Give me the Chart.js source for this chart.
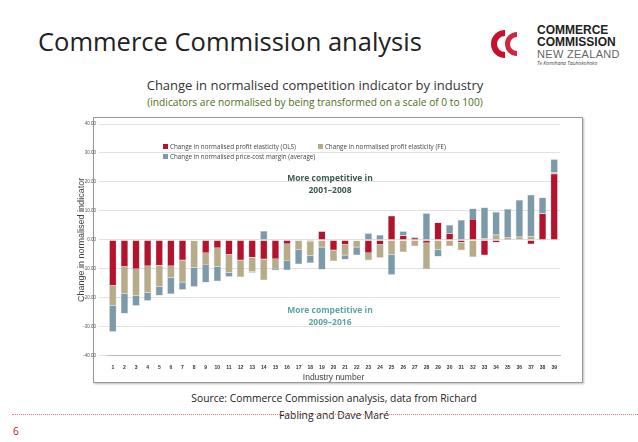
<!DOCTYPE html>
<html><head><meta charset="utf-8">
<script src="https://cdn.jsdelivr.net/npm/chart.js@4"></script>
<style>
body{margin:0;width:638px;height:442px;overflow:hidden;background:#fff;font-family:"Open Sans","Liberation Sans",sans-serif;position:relative}
.abs{position:absolute}
</style></head><body>
<div class="abs" style="left:38px;top:24px;font-size:25.5px;color:#222;">Commerce Commission analysis</div>
<svg class="abs" style="left:487px;top:26px" width="48" height="36" viewBox="0 0 48 36">
<path d="M18 4 A14 14 0 1 0 18 32 L18 26 A8 8 0 1 1 18 10 Z" fill="#c8102e"/>
<path d="M30 6 A12 12 0 1 0 30 30 L30 25 A7 7 0 1 1 30 11 Z" fill="#c8102e" opacity="0.9"/>
</svg>
<div class="abs" style="left:537px;top:24px;font-family:'Liberation Sans',sans-serif;font-weight:bold;font-size:12px;line-height:12px;color:#222">COMMERCE<br>COMMISSION</div>
<div class="abs" style="left:537px;top:48px;font-family:'Liberation Sans',sans-serif;font-size:11px;color:#666;letter-spacing:0.3px">NEW ZEALAND</div>
<div class="abs" style="left:537px;top:60px;font-size:5px;font-style:italic;color:#444">Te Komihana Tauhokohoko</div>
<div class="abs" style="left:0;width:630px;top:76px;text-align:center;font-size:13px;color:#333">Change in normalised competition indicator by industry</div>
<div class="abs" style="left:0;width:630px;top:95px;text-align:center;font-size:10.2px;color:#4e6e1a">(indicators are normalised by being transformed on a scale of 0 to 100)</div>
<div class="abs" style="left:93px;top:117px;width:490px;height:266px;border:1px solid #999;box-shadow:1px 1px 2px #bbb;box-sizing:border-box"></div>
<div class="abs" style="left:76px;top:117px;width:507px;height:266px"><canvas id="c"></canvas></div>
<div class="abs" style="left:163px;top:142px;font-size:6.3px;color:#444;line-height:10px">
<div><span style="display:inline-block;width:5px;height:5px;background:#b5122e;margin-right:2px"></span>Change in normalised profit elasticity (OLS)<span style="display:inline-block;width:5px;height:5px;background:#b7ab88;margin:0 2px 0 22px"></span>Change in normalised profit elasticity (FE)</div>
<div><span style="display:inline-block;width:5px;height:5px;background:#7b9bab;margin-right:2px"></span>Change in normalised price-cost margin (average)</div>
</div>
<div class="abs" style="left:270px;width:120px;top:172px;text-align:center;font-size:8.5px;font-weight:bold;color:#3b5a4e;line-height:12px">More competitive in<br>2001–2008</div>
<div class="abs" style="left:270px;width:120px;top:304px;text-align:center;font-size:8.5px;font-weight:bold;color:#5fa3a3;line-height:12px">More competitive in<br>2009–2016</div>
<div class="abs" style="left:0;width:668px;top:390px;text-align:center;font-size:10.3px;color:#222;line-height:17px">Source: Commerce Commission analysis, data from Richard<br>Fabling and Dave Maré</div>
<div class="abs" style="left:12px;width:626px;top:414px;border-top:1px dotted #d98080"></div>
<div class="abs" style="left:13px;top:424px;font-size:10px;color:#c8102e">6</div>
<script>
const categories=Array.from({length:39},(_,i)=>String(i+1));
const ols=[-15.8,-9.3,-10,-9,-8.8,-9,-7,-0.3,-4.5,-2.8,-5.1,-7,-6.1,-6.7,-6.6,-1.4,0,-0.5,3,-3.6,-1.7,-0.3,-4.5,-1.7,8.3,1.5,0.7,-1.1,6,2.3,-0.9,7.2,-5.3,-0.9,0.3,0.2,-1.5,9.1,22.8];
const fe=[-6.8,-9.3,-9.3,-9.2,-7.4,-4,-7.6,-9.2,-4.2,-6.5,-6.2,-5.8,-4.9,-7.2,-3.4,-5.9,-3.4,-4.9,-2.5,-3.7,-3.6,-2.2,-2.5,-4.5,-5.1,-4.2,-2.2,-8.9,-3.4,-2.2,-2.7,-5.9,0.6,1.8,0.5,0.9,1.25,-0.3,0.5];
const pcm=[-9.1,-6.8,-3.4,-2.8,-3,-5.7,-2.6,-6.7,-6,-5,-1.4,0,-0.3,3.1,-0.5,-3.2,-5,-2.6,-7.7,0,-1.5,-2.8,2.3,1.7,-6.9,1.5,0.3,9.2,-2.3,2.8,6.9,3.6,10.6,7.8,9.9,12.7,14.3,5.5,4.5];
const yTicks=[40,30,20,10,0,-10,-20,-30,-40];
const ds=(l,d,c)=>({label:l,data:d,backgroundColor:c,borderColor:'rgba(60,60,60,0.35)',borderWidth:0.5,barPercentage:0.62,categoryPercentage:1});
new Chart(document.getElementById('c'),{type:'bar',
data:{labels:categories,datasets:[ds('Change in normalised profit elasticity (OLS)',ols,'#b5122e'),ds('Change in normalised profit elasticity (FE)',fe,'#b7ab88'),ds('Change in normalised price-cost margin (average)',pcm,'#7b9bab')]},
options:{responsive:true,maintainAspectRatio:false,animation:false,
layout:{padding:{top:7,right:23,left:0,bottom:0}},
plugins:{legend:{display:false},tooltip:{enabled:false}},
scales:{x:{stacked:true,grid:{display:false},border:{color:'#bbb'},ticks:{font:{size:5,weight:'bold'},color:'#333',padding:1,maxRotation:0},
 title:{display:true,text:'Industry number',font:{size:8.5},color:'#444',padding:{top:1,bottom:0}}},
 y:{stacked:true,min:-40,max:40,afterBuildTicks:s=>{s.ticks=yTicks.map(v=>({value:v}));},afterFit:s=>{s.width=31;},
 grid:{color:'#e2e2e2'},border:{display:false},ticks:{font:{size:4.5},color:'#555',callback:v=>v.toFixed(2),padding:3},
 title:{display:true,text:'Change in normalised indicator',font:{size:9},color:'#444',padding:0}}}}});
</script></body></html>
